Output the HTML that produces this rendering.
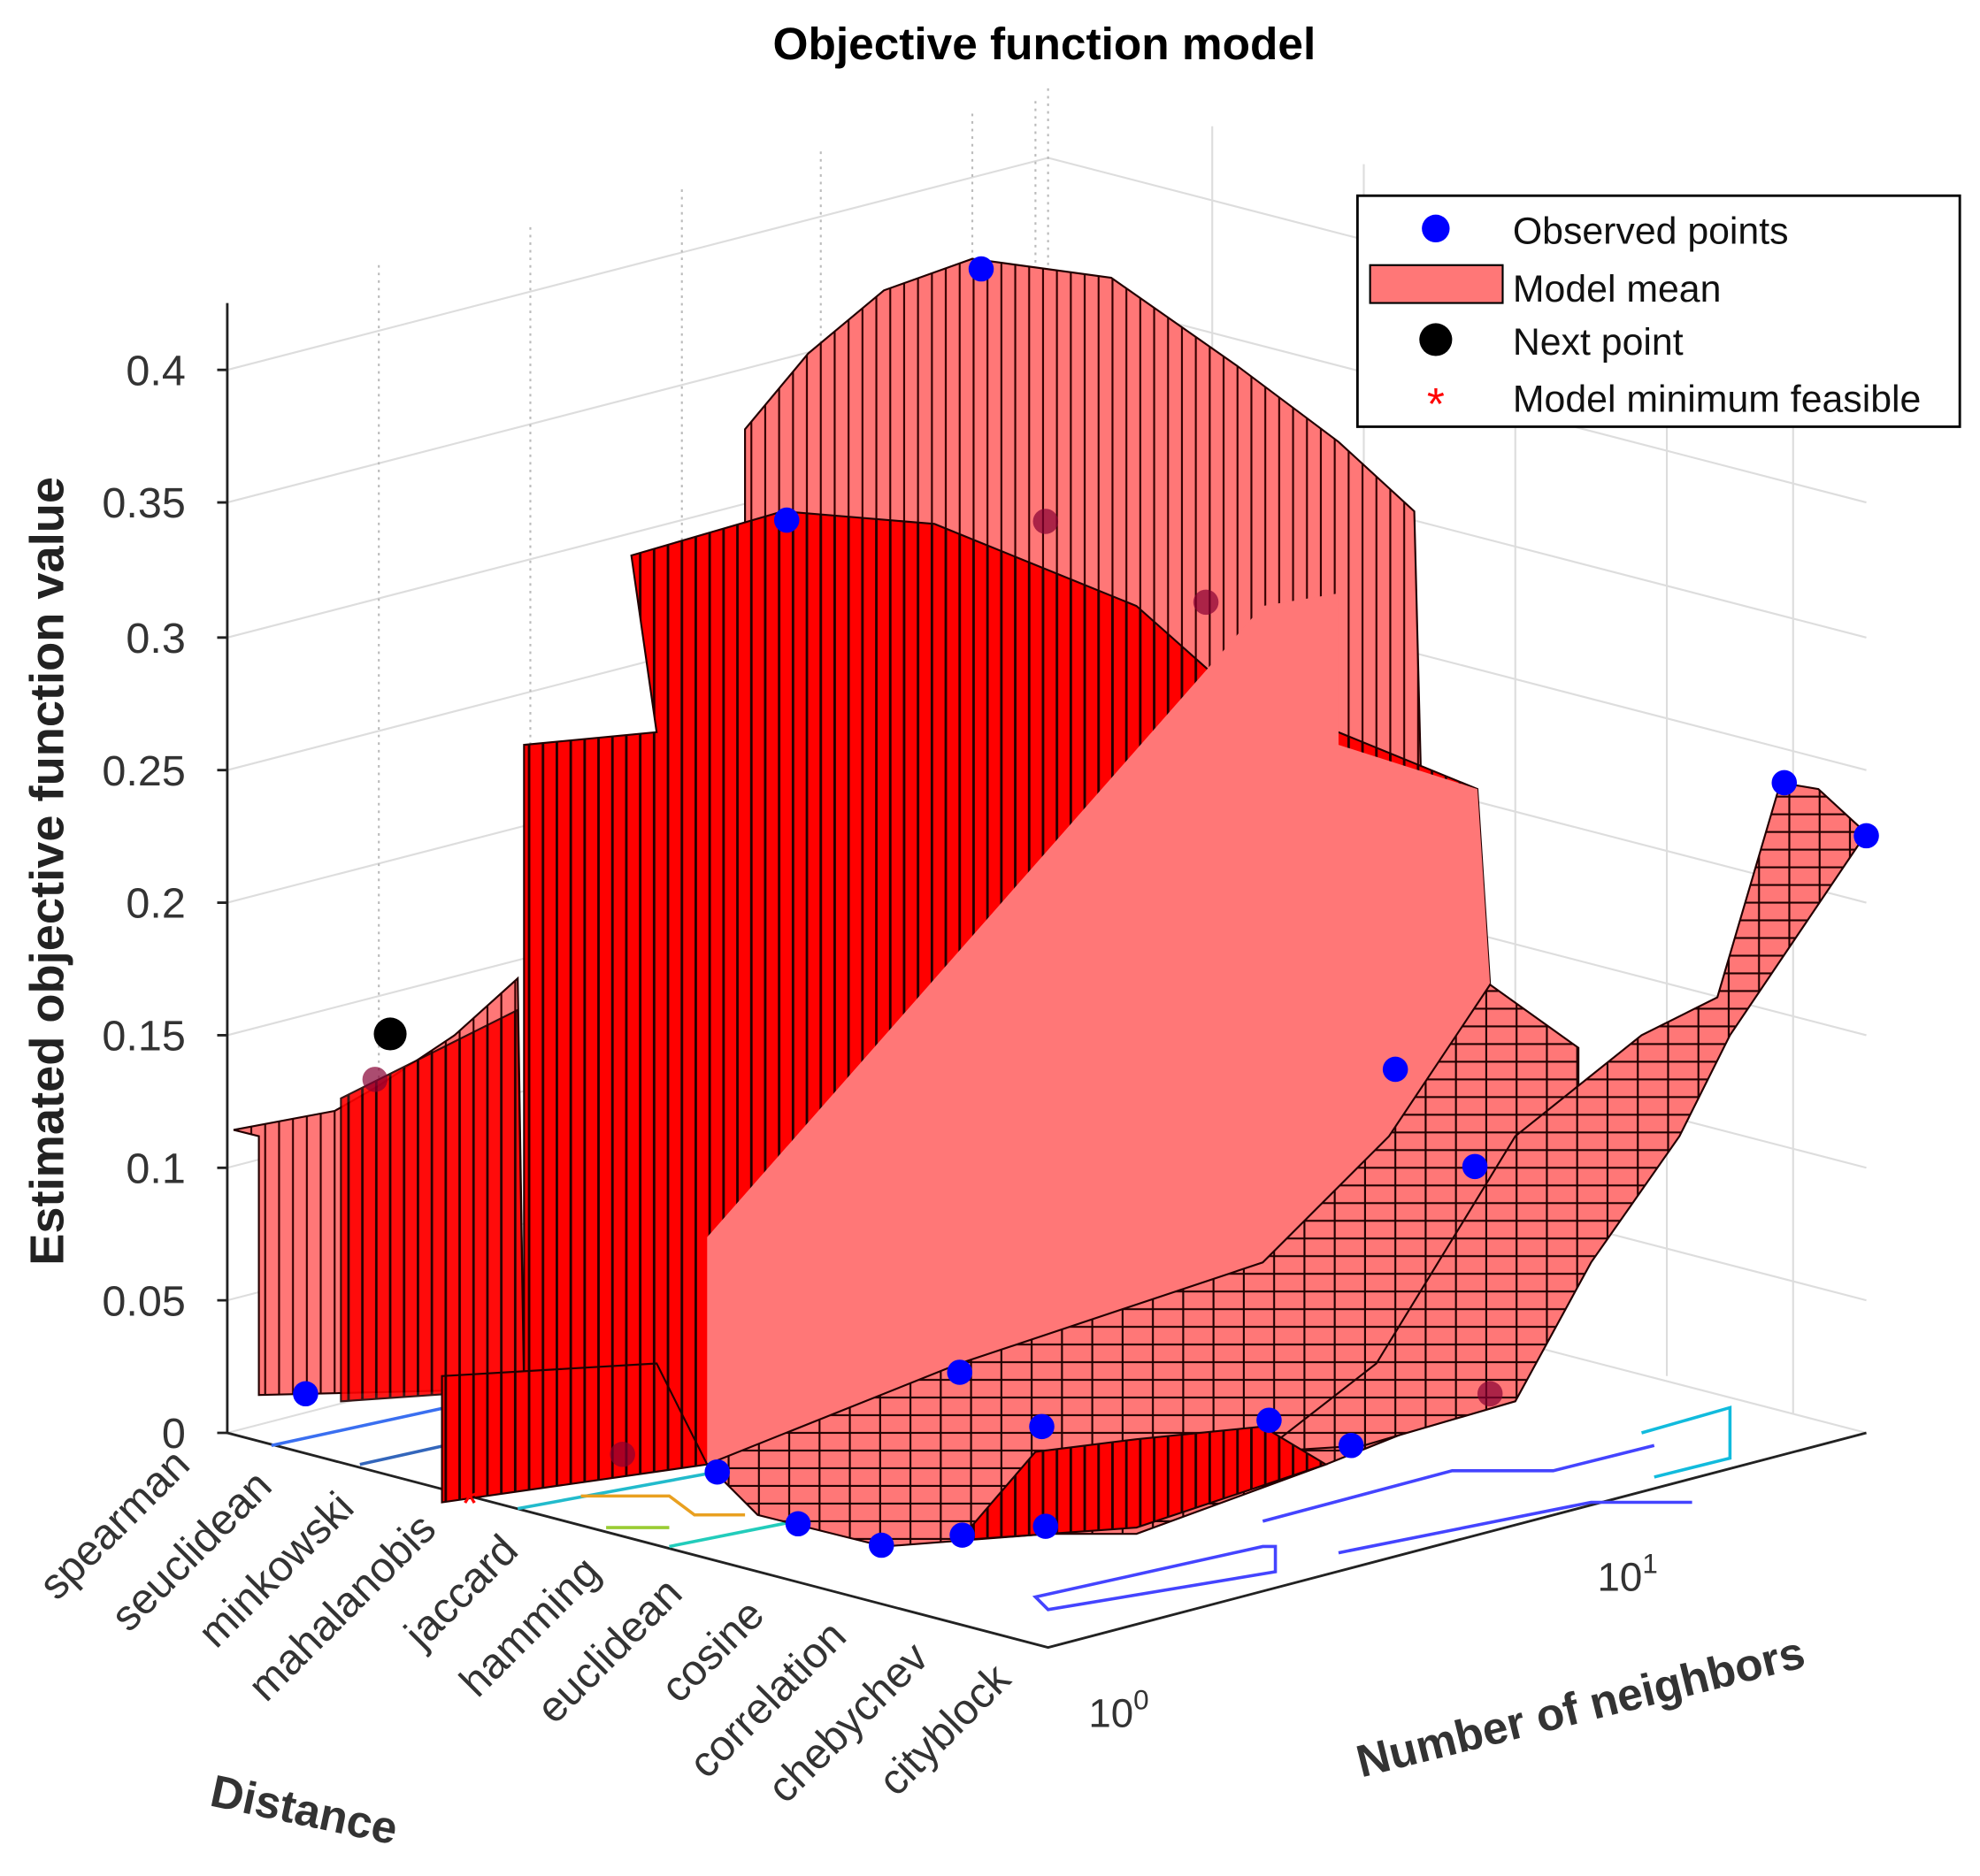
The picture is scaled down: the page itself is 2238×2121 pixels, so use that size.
<!DOCTYPE html>
<html><head><style>html,body{margin:0;padding:0;background:#fff}svg{display:block}</style></head><body>
<svg width="2238" height="2121" viewBox="0 0 1568 1486" xmlns="http://www.w3.org/2000/svg" font-family="Liberation Sans, Arial, sans-serif">
<defs>
<pattern id="v" width="11" height="20" patternUnits="userSpaceOnUse"><rect width="11" height="20" fill="#f00"/><line x1="1" y1="0" x2="1" y2="20" stroke="#200" stroke-width="2"/></pattern>
<pattern id="vl" width="11" height="20" patternUnits="userSpaceOnUse"><rect width="11" height="20" fill="#f77"/><line x1="1" y1="0" x2="1" y2="20" stroke="#300" stroke-width="1.5"/></pattern>
<pattern id="m" width="24" height="14" patternUnits="userSpaceOnUse"><rect width="24" height="14" fill="#f77"/><path d="M0 1H24M1 0V14" stroke="#200" stroke-width="1.5"/></pattern>
</defs>
<rect width="1568" height="1486" fill="#fff"/>
<text x="827" y="47" text-anchor="middle" font-size="36" font-weight="bold">Objective function model</text>
<g stroke="#ddd" stroke-width="1.5" fill="none">
<path d="M180 293L830 125L1478 293M180 398L830 230L1478 398M180 505L830 337L1478 505M180 610L830 442L1478 610M180 715L830 547L1478 715M180 820L830 652L1478 820M180 925L830 757L1478 925M180 1030L830 862L1478 1030M180 1135L830 967L1478 1135"/>
<path d="M960 100V1000M1080 130V1030M1200 160V1060M1320 190V1090M1420 215V1120"/>
</g>
<g stroke="#bbb" stroke-width="1.5" fill="none" stroke-dasharray="2 4">
<path d="M830 70V967M300 210V1105M420 180V1075M540 150V1045M650 120V1015M770 90V985M820 80V975"/>
</g>
<g stroke="#222" stroke-width="2" fill="none">
<path d="M180 240V1135L830 1305L1478 1135"/>
<path d="M180 293h-8M180 398h-8M180 505h-8M180 610h-8M180 715h-8M180 820h-8M180 925h-8M180 1030h-8M180 1135h-8"/>
</g>
<g font-size="34" fill="#333" text-anchor="end">
<text x="147" y="305">0.4</text><text x="147" y="410">0.35</text><text x="147" y="517">0.3</text><text x="147" y="622">0.25</text><text x="147" y="727">0.2</text><text x="147" y="832">0.15</text><text x="147" y="937">0.1</text><text x="147" y="1042">0.05</text><text x="147" y="1147">0</text>
</g>
<text transform="translate(50,690) rotate(-90)" text-anchor="middle" font-size="38" font-weight="bold" fill="#222">Estimated objective function value</text>
<g font-size="34" fill="#333" text-anchor="end">
<text transform="translate(152,1162) rotate(-45)">spearman</text>
<text transform="translate(217,1179) rotate(-45)">seuclidean</text>
<text transform="translate(282,1196) rotate(-45)">minkowski</text>
<text transform="translate(347,1213) rotate(-45)">mahalanobis</text>
<text transform="translate(412,1230) rotate(-45)">jaccard</text>
<text transform="translate(477,1247) rotate(-45)">hamming</text>
<text transform="translate(542,1264) rotate(-45)">euclidean</text>
<text transform="translate(607,1281) rotate(-45)">cosine</text>
<text transform="translate(672,1298) rotate(-45)">correlation</text>
<text transform="translate(737,1315) rotate(-45)">chebychev</text>
<text transform="translate(802,1332) rotate(-45)">cityblock</text>
</g>
<text transform="translate(165,1430) rotate(12)" font-size="36" font-weight="bold" fill="#333">Distance</text>
<text transform="translate(1078,1408) rotate(-14)" font-size="36" font-weight="bold" fill="#333">Number of neighbors</text>
<text x="862" y="1368" font-size="32" fill="#333">10<tspan dy="-14" font-size="22">0</tspan></text>
<text x="1265" y="1260" font-size="32" fill="#333">10<tspan dy="-14" font-size="22">1</tspan></text>
<g fill="none" stroke-width="2.5">
<path d="M215 1145L560 1070" stroke="#3a6ff0"/>
<path d="M285 1160L600 1090" stroke="#36b"/>
<path d="M410 1195L600 1160" stroke="#2bc"/>
<path d="M530 1225L630 1205" stroke="#2cb"/>
<path d="M460 1185h70l20 15h40" stroke="#e9a020"/>
<path d="M480 1210h50" stroke="#9c3"/>
<path d="M820 1265l180-40h10v20l-180 30z" stroke="#44f"/>
<path d="M1000 1205l150-40h80l80-20" stroke="#44f"/>
<path d="M1060 1230l200-40h80" stroke="#44f"/>
<path d="M1300 1135l70-20v40l-60 15" stroke="#1bd"/>
</g>
<g stroke="#200" stroke-width="1.5">
<path d="M590 1000V340L640 280L700 230L770 205L880 220L980 290L1060 350L1120 405L1135 1000Z" fill="url(#vl)"/>
<path d="M205 1105V900L185 895L265 880L300 860L360 820L410 775L415 1100Z" fill="url(#vl)"/>
<path d="M270 1110V870L350 830L410 800L415 1100Z" fill="url(#v)" opacity="0.9"/>
<path d="M415 1150V590L520 580L500 440L620 405L740 415L900 480L990 560L1060 580L1170 625L1180 780L1020 960L560 1160Z" fill="url(#v)"/>
<path d="M560 1160L560 980L1000 480L1060 470L1060 590L1170 625L1180 780L1250 830L1250 1000L900 1100Z" fill="#f77" stroke="none"/>
<path d="M350 1190V1090L520 1080L560 1160Z" fill="url(#v)"/>
<path d="M560 1160L760 1080L1000 1000L1100 900L1180 780L1250 830L1250 1000L1200 1100L1050 1160L900 1215L830 1215L700 1225L600 1200Z" fill="url(#m)"/>
<path d="M1000 1150L1090 1080L1200 900L1300 820L1360 790L1410 620L1440 625L1478 660L1370 820L1330 900L1260 1000L1200 1110L1080 1145Z" fill="url(#m)"/>
<path d="M760 1220L820 1150L900 1140L1000 1130L1050 1160L900 1210Z" fill="url(#v)"/>
</g>
<g fill="#00f">
<circle cx="242" cy="1104" r="10"/><circle cx="623" cy="412" r="10"/><circle cx="777" cy="213" r="10"/>
<circle cx="1105" cy="847" r="10"/><circle cx="1168" cy="924" r="10"/><circle cx="1413" cy="620" r="10"/><circle cx="1478" cy="662" r="10"/>
<circle cx="568" cy="1166" r="10"/><circle cx="632" cy="1207" r="10"/><circle cx="698" cy="1224" r="10"/><circle cx="762" cy="1216" r="10"/><circle cx="828" cy="1209" r="10"/>
<circle cx="760" cy="1087" r="10"/><circle cx="825" cy="1130" r="10"/><circle cx="1005" cy="1125" r="10"/><circle cx="1070" cy="1145" r="10"/>
</g>
<g fill="#803" opacity="0.7"><circle cx="297" cy="855" r="10"/><circle cx="828" cy="413" r="10"/><circle cx="955" cy="477" r="10"/><circle cx="1180" cy="1104" r="10"/><circle cx="493" cy="1152" r="10"/></g>
<circle cx="309" cy="819" r="13" fill="#000"/>
<text x="372" y="1203" font-size="36" fill="#f00" text-anchor="middle">*</text>
<rect x="1075" y="155" width="477" height="183" fill="#fff" stroke="#000" stroke-width="2"/>
<circle cx="1137" cy="181" r="11" fill="#00f"/>
<rect x="1085" y="210" width="105" height="30" fill="#f77" stroke="#000" stroke-width="1.5"/>
<circle cx="1137" cy="269" r="13" fill="#000"/>
<text x="1137" y="332" font-size="36" fill="#f00" text-anchor="middle">*</text>
<g font-size="30" fill="#111"><text x="1198" y="193">Observed points</text><text x="1198" y="239">Model mean</text><text x="1198" y="281">Next point</text><text x="1198" y="326">Model minimum feasible</text></g>
</svg>
</body></html>
